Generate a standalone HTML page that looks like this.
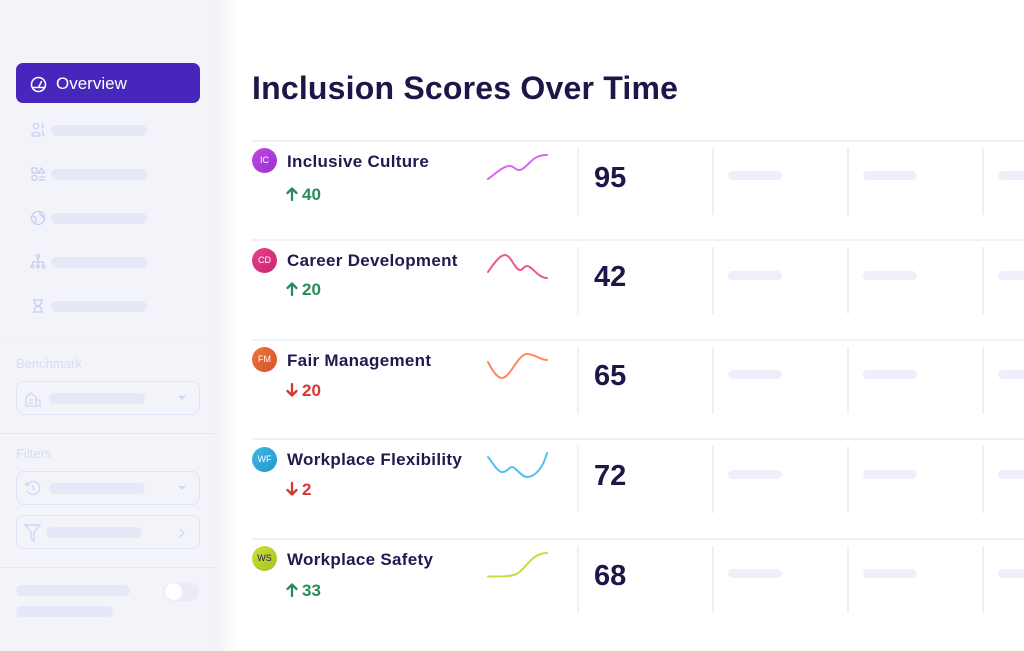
<!DOCTYPE html>
<html><head><meta charset="utf-8">
<style>
*{margin:0;padding:0;box-sizing:border-box}
html,body{width:1024px;height:651px;overflow:hidden;background:#fff;font-family:"Liberation Sans",sans-serif}
.abs{position:absolute}
#side{position:absolute;left:0;top:0;width:215px;height:651px;background:#f3f4f9}
#shadow{position:absolute;left:215px;top:0;width:26px;height:651px;background:linear-gradient(to right,#f0f0f3,#fafafb 50%,#fff)}
.btn{left:16px;top:63px;width:184px;height:40px;background:#4726bb;border-radius:7px}
.bar{background:#e6e8f7;border-radius:6px;height:11px}
.line{background:#e3e4f5;height:1px}
.lbl{font-size:13px;color:#d9dbf4;line-height:13px}
.dd{left:16px;width:184px;height:34px;border:1.5px solid #e1e2f8;border-radius:8px}
.rowline{left:252px;width:772px;height:2px;background:#f0f0f8}
.vdiv{width:1.5px;background:#efeff8;height:67px}
.pbar{background:#efeffb;border-radius:5px;height:9px;width:54px}
.name{left:287px;font-size:17px;font-weight:bold;color:#24184f;line-height:17px;white-space:nowrap;letter-spacing:0.3px}
.delta{left:302px;font-size:17px;font-weight:bold;line-height:17px;white-space:nowrap}
.up{color:#2a8a5c}.dn{color:#d93535}
.num{left:594px;font-size:29px;font-weight:bold;color:#1f1548;line-height:29px}
.av{left:252px;width:25px;height:25px;border-radius:50%;color:#fff;font-size:9px;text-align:center;line-height:25px}
</style></head><body>
<div id="side"></div>
<div id="shadow"></div>

<div class="abs btn"></div>
<svg class="abs" style="left:30px;top:76px" width="17" height="17" viewBox="0 0 17 17"><circle cx="8.5" cy="8.5" r="7" fill="none" stroke="#fff" stroke-width="1.5"/><path d="M2.5 11.5 H14.5 M8.5 11.5 L11.5 5.5" stroke="#fff" stroke-width="1.5" fill="none" stroke-linecap="round"/></svg>
<div class="abs" style="left:56px;top:75px;font-size:17px;color:#fff;line-height:17px">Overview</div>

<!-- nav icons -->
<svg class="abs" style="left:0;top:0" width="60" height="330" viewBox="0 0 60 330" fill="none" stroke="#c9ccf5" stroke-width="1.3">
 <circle cx="36" cy="126" r="2.6"/><path d="M32 136 c0-5 8-5 8 0 z"/><path d="M42 124 q2 2 0 4 M42 131 q2 2 1 5"/>
 <rect x="32" y="168" width="5" height="5"/><path d="M41.5 168 l3 5 h-6 z"/><circle cx="34.5" cy="178" r="2.5"/><path d="M39 177 h6 M39 180 h6"/>
 <circle cx="38" cy="218" r="6.5"/><path d="M32 216 q4 0 4 4 q0 3 -2 4 M40 212 q-1 3 2 4 q3 1 2 4"/>
 <circle cx="38" cy="256" r="1.6"/><path d="M38 258 v4 M32.5 262 h11 M32.5 262 v3 M38 262 v3 M43.5 262 v3"/><circle cx="32.5" cy="266.5" r="1.3"/><circle cx="38" cy="266.5" r="1.3"/><circle cx="43.5" cy="266.5" r="1.3"/>
 <path d="M33 300 h10 M33 312 h10 M34.5 300 v2 q0 3 3.5 4 q3.5 1 3.5 4 v2 M41.5 300 v2 q0 3 -3.5 4 q-3.5 1 -3.5 4 v2"/>
</svg>
<div class="abs bar" style="left:51px;top:125px;width:96px"></div>
<div class="abs bar" style="left:51px;top:169px;width:96px"></div>
<div class="abs bar" style="left:51px;top:213px;width:96px"></div>
<div class="abs bar" style="left:51px;top:257px;width:96px"></div>
<div class="abs bar" style="left:51px;top:301px;width:96px"></div>

<div class="abs line" style="left:0;top:342px;width:215px;background:#eeeff8"></div>
<div class="abs lbl" style="left:16px;top:357px">Benchmark</div>
<div class="abs dd" style="top:381px"></div>
<svg class="abs" style="left:24px;top:390px" width="18" height="18" viewBox="0 0 18 18" fill="none" stroke="#d3d5f6" stroke-width="1.3"><path d="M2 16 V7 l5-4 5 4 v9 z M12 10 h4 v6 h-4 M5 10 h4 M5 13 h4"/></svg>
<div class="abs bar" style="left:49px;top:393px;width:96px"></div>
<svg class="abs" style="left:177px;top:395px" width="10" height="6"><path d="M1 1 h8 l-4 4 z" fill="#d3d5f6"/></svg>

<div class="abs line" style="left:0;top:433px;width:215px"></div>
<div class="abs lbl" style="left:16px;top:447px">Filters</div>
<div class="abs dd" style="top:471px"></div>
<svg class="abs" style="left:24px;top:479px" width="18" height="18" viewBox="0 0 18 18" fill="none" stroke="#d3d5f6" stroke-width="1.4"><path d="M4 5 A6.5 6.5 0 1 1 3 11 M2 3 v3 h3 M9 6 v3.5 l2 1.5"/></svg>
<div class="abs bar" style="left:49px;top:483px;width:96px"></div>
<svg class="abs" style="left:177px;top:485px" width="10" height="6"><path d="M1 1 h8 l-4 4 z" fill="#d3d5f6"/></svg>
<div class="abs dd" style="top:515px"></div>
<svg class="abs" style="left:24px;top:523px" width="18" height="20" viewBox="0 0 18 20" fill="none" stroke="#d3d5f6" stroke-width="1.4"><path d="M1 2 h15 l-6 7 v9 l-3-3 v-6 z"/></svg>
<div class="abs bar" style="left:46px;top:527px;width:96px"></div>
<svg class="abs" style="left:179px;top:528px" width="6" height="10"><path d="M1 1 l4 4 -4 4" fill="none" stroke="#d3d5f6" stroke-width="1.3"/></svg>

<div class="abs line" style="left:0;top:567px;width:215px"></div>
<div class="abs bar" style="left:16px;top:585px;width:114px"></div>
<div class="abs bar" style="left:16px;top:606px;width:97px"></div>
<div class="abs" style="left:163px;top:582px;width:36px;height:19px;border-radius:10px;background:#ebecf7"></div>
<div class="abs" style="left:165px;top:583px;width:17px;height:17px;border-radius:50%;background:#fff"></div>

<!-- main -->
<div class="abs" style="left:252px;top:72px;font-size:32px;font-weight:bold;color:#1e1548;line-height:32px;letter-spacing:0.2px;white-space:nowrap">Inclusion Scores Over Time</div>

<div class="abs rowline" style="top:140px"></div>
<div class="abs rowline" style="top:239px"></div>
<div class="abs rowline" style="top:339px"></div>
<div class="abs rowline" style="top:438px"></div>
<div class="abs rowline" style="top:538px"></div>

<!-- dividers and placeholder bars -->
<div class="abs vdiv" style="left:577px;top:148px"></div><div class="abs vdiv" style="left:712px;top:148px"></div><div class="abs vdiv" style="left:847px;top:148px"></div><div class="abs vdiv" style="left:982px;top:148px"></div>
<div class="abs pbar" style="left:728px;top:171px"></div><div class="abs pbar" style="left:863px;top:171px"></div><div class="abs pbar" style="left:998px;top:171px"></div>

<div class="abs vdiv" style="left:577px;top:247px"></div><div class="abs vdiv" style="left:712px;top:247px"></div><div class="abs vdiv" style="left:847px;top:247px"></div><div class="abs vdiv" style="left:982px;top:247px"></div>
<div class="abs pbar" style="left:728px;top:271px"></div><div class="abs pbar" style="left:863px;top:271px"></div><div class="abs pbar" style="left:998px;top:271px"></div>

<div class="abs vdiv" style="left:577px;top:347px"></div><div class="abs vdiv" style="left:712px;top:347px"></div><div class="abs vdiv" style="left:847px;top:347px"></div><div class="abs vdiv" style="left:982px;top:347px"></div>
<div class="abs pbar" style="left:728px;top:370px"></div><div class="abs pbar" style="left:863px;top:370px"></div><div class="abs pbar" style="left:998px;top:370px"></div>

<div class="abs vdiv" style="left:577px;top:446px"></div><div class="abs vdiv" style="left:712px;top:446px"></div><div class="abs vdiv" style="left:847px;top:446px"></div><div class="abs vdiv" style="left:982px;top:446px"></div>
<div class="abs pbar" style="left:728px;top:470px"></div><div class="abs pbar" style="left:863px;top:470px"></div><div class="abs pbar" style="left:998px;top:470px"></div>

<div class="abs vdiv" style="left:577px;top:546px"></div><div class="abs vdiv" style="left:712px;top:546px"></div><div class="abs vdiv" style="left:847px;top:546px"></div><div class="abs vdiv" style="left:982px;top:546px"></div>
<div class="abs pbar" style="left:728px;top:569px"></div><div class="abs pbar" style="left:863px;top:569px"></div><div class="abs pbar" style="left:998px;top:569px"></div>

<!-- avatars -->
<div class="abs av" style="top:148px;background:linear-gradient(135deg,#c04ae6,#9a2fcf)">IC</div>
<div class="abs av" style="top:248px;background:linear-gradient(135deg,#e6418a,#c92672)">CD</div>
<div class="abs av" style="top:347px;background:linear-gradient(135deg,#ee7440,#d25426)">FM</div>
<div class="abs av" style="top:447px;background:linear-gradient(135deg,#3fb6e6,#2596cc)">WF</div>
<div class="abs av" style="top:546px;background:linear-gradient(135deg,#c9e03a,#a9c21f);color:#24184f">WS</div>

<!-- names -->
<div class="abs name" style="top:152.5px">Inclusive Culture</div>
<div class="abs name" style="top:252px">Career Development</div>
<div class="abs name" style="top:351.5px">Fair Management</div>
<div class="abs name" style="top:451px">Workplace Flexibility</div>
<div class="abs name" style="top:550.5px">Workplace Safety</div>

<!-- delta arrows -->
<svg class="abs" style="left:0;top:0" width="320" height="651" fill="none" stroke-width="2.3" stroke-linecap="round" stroke-linejoin="round">
 <path d="M292 200 V188.5 M287.5 193 L292 188.5 L296.5 193" stroke="#2a8a5c"/>
 <path d="M292 295 V283.5 M287.5 288 L292 283.5 L296.5 288" stroke="#2a8a5c"/>
 <path d="M292 384 V395.5 M287.5 391 L292 395.5 L296.5 391" stroke="#d93535"/>
 <path d="M292 483 V494.5 M287.5 490 L292 494.5 L296.5 490" stroke="#d93535"/>
 <path d="M292 596 V584.5 M287.5 589 L292 584.5 L296.5 589" stroke="#2a8a5c"/>
</svg>
<!-- deltas -->
<div class="abs delta up" style="top:185.5px">40</div>
<div class="abs delta up" style="top:280.5px">20</div>
<div class="abs delta dn" style="top:381.5px">20</div>
<div class="abs delta dn" style="top:480.5px">2</div>
<div class="abs delta up" style="top:581.5px">33</div>

<!-- numbers -->
<div class="abs num" style="top:163.5px">95</div>
<div class="abs num" style="top:262.5px">42</div>
<div class="abs num" style="top:361.5px">65</div>
<div class="abs num" style="top:462px">72</div>
<div class="abs num" style="top:561.5px">68</div>

<!-- sparklines -->
<svg class="abs" style="left:0;top:0" width="1024" height="651" fill="none" stroke-width="2" stroke-linecap="round">
 <path d="M488,179 C495,174 503,166 510,166 C514,166 515,170 519,170 C525,170 530,160 537,157 C541,155 545,155 547,155" stroke="#d966f0"/>
 <path d="M488,272 C494,263 500,255 505,255 C511,255 515,270 520,270 C523,270 524,266 527,266 C532,266 538,278 547,278" stroke="#f0568a"/>
 <path d="M488,362 C492,370 497,378 502,378 C510,378 518,354 527,354 C535,354 540,360 547,360" stroke="#fb8a5e"/>
 <path d="M488,457 C493,463 498,473 503,472 C507,472 509,467 512,467 C516,467 521,477 527,477 C535,477 543,468 547,453" stroke="#4ec2ea"/>
 <path d="M488,576.5 C500,576.5 508,576.5 514,575 C525,572 530,553 547,553" stroke="#c8dd3a"/>
</svg>
</body></html>
